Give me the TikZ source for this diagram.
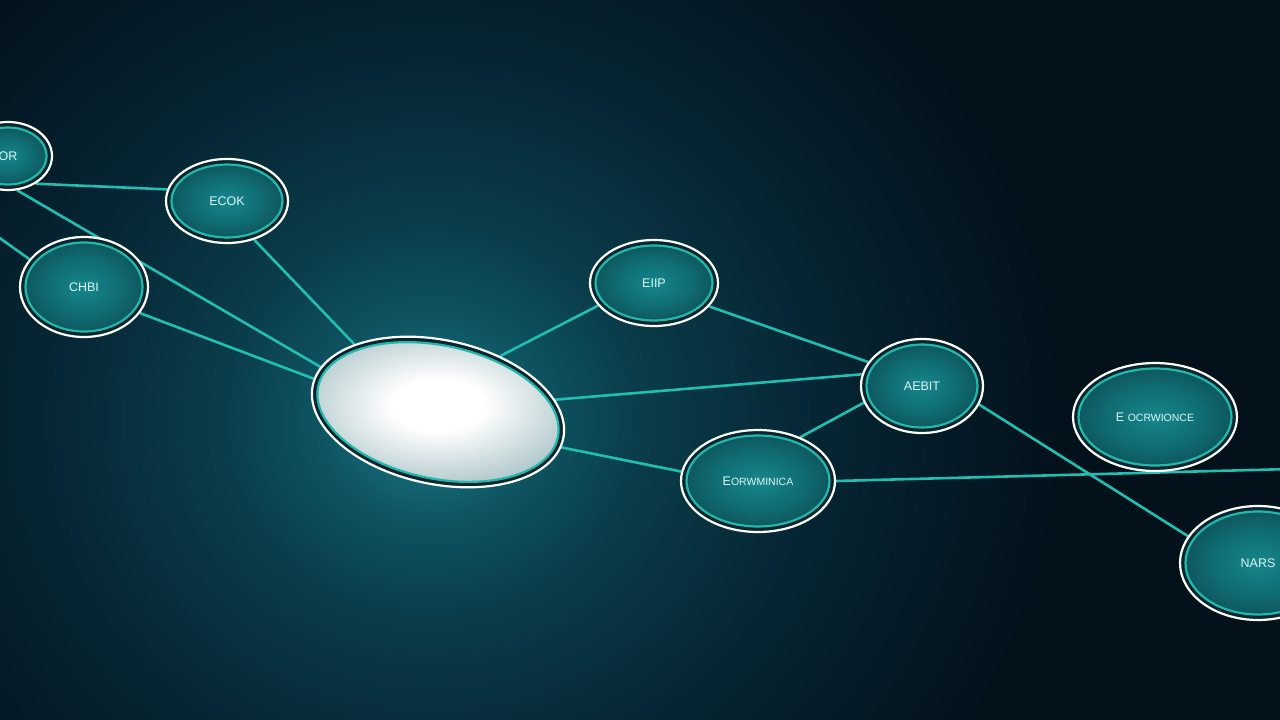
\documentclass[tikz,border=0pt]{standalone}
\usepackage{fontspec}
\setmainfont{Liberation Sans}
\usetikzlibrary{shapes.geometric}
\definecolor{bg}{HTML}{03111B}
\definecolor{g0}{HTML}{1A8290}
\definecolor{g1}{HTML}{0F5563}
\definecolor{g2}{HTML}{0A3C4A}
\definecolor{g3}{HTML}{062533}
\definecolor{edgec}{HTML}{1FBFB2}
\definecolor{ringteal}{HTML}{22B8AA}
\definecolor{nin}{HTML}{15878D}
\definecolor{nout}{HTML}{062A34}
\definecolor{cin}{HTML}{FFFFFF}
\definecolor{cmid}{HTML}{B2C9CD}
\definecolor{cout}{HTML}{477A84}
\definecolor{gapc}{HTML}{052630}
\definecolor{txt}{HTML}{DDF6F5}
\pgfdeclareradialshading{glow}{\pgfpoint{0bp}{0bp}}{color(0bp)=(g0); color(7bp)=(g1); color(14bp)=(g2); color(26bp)=(g3); color(42bp)=(bg); color(50bp)=(bg)}
\pgfdeclareradialshading{nshade}{\pgfpoint{0bp}{0bp}}{color(0bp)=(nin); color(16bp)=(nin!70!nout); color(46bp)=(nout); color(50bp)=(nout)}
\pgfdeclareradialshading{cshade}{\pgfpoint{0bp}{0bp}}{color(0bp)=(cin); color(9bp)=(cin); color(28bp)=(cmid); color(48bp)=(cout); color(50bp)=(cout)}
\pgfdeclarelayer{background}
\pgfsetlayers{background,main}
\tikzset{
  ring/.style={ellipse, draw=white, line width=2.2pt, fill=gapc, inner sep=0pt},
  core/.style={ellipse, draw=ringteal, line width=2.2pt, shading=nshade, text=txt, inner sep=0pt, font=\fontsize{12.5}{12.5}\selectfont},
  edge/.style={draw=edgec, line width=2.6pt},
}
\newcommand\bub[6]{%
  \node[ring, minimum width=2*#4, minimum height=2*#5] (#1) at (#2,#3) {};
  \node[core, minimum width=2*#4-11, minimum height=2*#5-11] (#1-in) at (#2,#3) {#6};}
\begin{document}
\begin{tikzpicture}[x=1pt,y=-1pt]
\useasboundingbox (0,0) rectangle (1280,720);
\begin{pgfonlayer}{background}
  \fill[bg] (0,0) rectangle (1280,720);
  \begin{scope}
    \clip (0,0) rectangle (1280,720);
    \node[inner sep=0pt, outer sep=0pt, xscale=15, yscale=14] (glowbox) at (430,420) {\pgfuseshading{glow}};
  \end{scope}
\end{pgfonlayer}
\coordinate (offL) at (-20,224);
\coordinate (offR) at (1290,469);
% nodes
\bub{n1}{8}{156}{44}{34}{OR}
\bub{ecok}{227}{201}{61}{42}{ECOK}
\bub{chbi}{84}{287}{64}{50}{CHBI}
\bub{eiip}{654}{283}{64}{43}{EIIP}
\bub{aebit}{922}{386}{61}{47}{AEBIT}
\bub{eorw}{758}{481}{77}{51}{E{\fontsize{10.5}{10.5}\selectfont ORWMINICA}}
\bub{eocr}{1155}{417}{82}{54}{E {\fontsize{10.5}{10.5}\selectfont OCRWIONCE}}
\bub{nars}{1258}{563}{78}{57}{NARS}
\node[ring, rotate=-12, minimum width=256, minimum height=144] (cen) at (438,412) {};
\node[core, rotate=-12, shading=cshade, minimum width=245, minimum height=133] (cen-in) at (438,412) {};
% edges
\begin{pgfonlayer}{background}
  \draw[edge] (n1.-45) -- (ecok.169);
  \draw[edge] (n1.-75) -- (cen.171);
  \draw[edge] (offL) -- (chbi.153);
  \draw[edge] (chbi.-25) -- (cen.177);
  \draw[edge] (ecok.-55) -- (cen.153);
  \draw[edge] (eiip.-158) -- (cen.54);
  \draw[edge] (cen.18) -- (aebit.169);
  \draw[edge] (cen.-4) -- (eorw.173);
  \draw[edge] (eiip.-23) -- (aebit.156);
  \draw[edge] (eorw.46) -- (aebit.-164);
  \draw[edge] (eorw.0) -- (offR);
  \draw[edge] (aebit.-18) -- (nars.159);
\end{pgfonlayer}
\end{tikzpicture}
\end{document}
